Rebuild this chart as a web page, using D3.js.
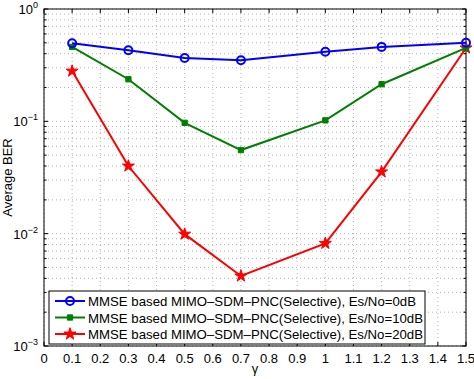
<!DOCTYPE html>
<html><head><meta charset="utf-8">
<script src="https://cdn.jsdelivr.net/npm/d3@7"></script>
<style>body{margin:0;background:#fff}svg{display:block}text{font-family:"Liberation Sans",Arial,sans-serif}</style>
</head><body>
<svg id="c" width="474" height="379"></svg>
<script>
const gammas = [0.1, 0.3, 0.5, 0.7, 1.0, 1.2, 1.5];
const ber0dB  = [0.495, 0.43, 0.366, 0.35, 0.417, 0.46, 0.50];
const ber10dB = [0.46, 0.237, 0.097, 0.0555, 0.102, 0.214, 0.45];
const ber20dB = [0.28, 0.040, 0.0099, 0.0042, 0.0082, 0.0355, 0.45];
const seriesNames = [
  "MMSE based MIMO\u2013SDM\u2013PNC(Selective), Es/No=0dB",
  "MMSE based MIMO\u2013SDM\u2013PNC(Selective), Es/No=10dB",
  "MMSE based MIMO\u2013SDM\u2013PNC(Selective), Es/No=20dB"
];
const colors = ["#0000ff", "#008000", "#ff0000"];
const xTicks = [0,0.1,0.2,0.3,0.4,0.5,0.6,0.7,0.8,0.9,1,1.1,1.2,1.3,1.4,1.5];
const yDecades = [0, -1, -2, -3];

const svg = d3.select("#c");
const L = 44, R = 466, T = 9, B = 346;
const x = d3.scaleLinear().domain([0, 1.5]).range([L, R]);
const y = d3.scaleLog().domain([1e-3, 1]).range([B, T]);

// grid
const g = svg.append("g");
const minor = [];
for (let e = -3; e < 0; e++) for (let m = 1; m <= 9; m++) minor.push(m * Math.pow(10, e));
minor.push(1);
g.selectAll("line.hg").data(minor).join("line")
  .attr("x1", L).attr("x2", R).attr("y1", d => y(d)).attr("y2", d => y(d))
  .attr("stroke", "#a0a0a0").attr("stroke-width", 0.8).attr("stroke-dasharray", "1,3");
g.selectAll("line.vg").data(xTicks).join("line")
  .attr("y1", T).attr("y2", B).attr("x1", d => x(d)).attr("x2", d => x(d))
  .attr("stroke", "#a0a0a0").attr("stroke-width", 0.8).attr("stroke-dasharray", "1,3");

// frame
svg.append("rect").attr("x", L).attr("y", T).attr("width", R - L).attr("height", B - T)
  .attr("fill", "none").attr("stroke", "#000").attr("stroke-width", 1);

// ticks inside
xTicks.forEach(v => {
  svg.append("line").attr("x1", x(v)).attr("x2", x(v)).attr("y1", B).attr("y2", B - 4).attr("stroke", "#000");
  svg.append("line").attr("x1", x(v)).attr("x2", x(v)).attr("y1", T).attr("y2", T + 4).attr("stroke", "#000");
});
minor.forEach(v => {
  const major = Math.abs(Math.log10(v) - Math.round(Math.log10(v))) < 1e-9;
  const len = major ? 4 : 2.5;
  svg.append("line").attr("x1", L).attr("x2", L + len).attr("y1", y(v)).attr("y2", y(v)).attr("stroke", "#000");
  svg.append("line").attr("x1", R).attr("x2", R - len).attr("y1", y(v)).attr("y2", y(v)).attr("stroke", "#000");
});

// x tick labels
svg.selectAll("text.xt").data(xTicks).join("text")
  .attr("x", d => x(d)).attr("y", B + 17).attr("text-anchor", "middle")
  .attr("font-size", 13).text(d => d3.format("~g")(d));

// y tick labels
yDecades.forEach(e => {
  const t = svg.append("text").attr("x", L - 6).attr("y", y(Math.pow(10, e)) + 5)
    .attr("text-anchor", "end").attr("font-size", 13);
  t.append("tspan").text("10");
  t.append("tspan").attr("dy", -6).attr("font-size", 9).text(e === 0 ? "0" : "\u2212" + (-e));
});

// axis labels
svg.append("text").attr("transform", `translate(12,${(T + B) / 2}) rotate(-90)`)
  .attr("text-anchor", "middle").attr("font-size", 13).text("Average BER");
svg.append("text").attr("x", x(0.75)).attr("y", 373).attr("text-anchor", "middle")
  .attr("font-size", 13).attr("font-family", "DejaVu Serif, serif").text("\u03b3");

// series
const all = [ber0dB, ber10dB, ber20dB];
const line = d3.line().x((d, i) => x(gammas[i])).y(d => y(d));
const star = d3.symbol().type(d3.symbolStar).size(45);
const sq = d3.symbol().type(d3.symbolSquare).size(28);

function marker(sel, k, cx, cy) {
  if (k === 0) sel.append("circle").attr("cx", cx).attr("cy", cy).attr("r", 4)
    .attr("fill", "none").attr("stroke", colors[0]).attr("stroke-width", 2);
  else if (k === 1) sel.append("path").attr("d", sq).attr("transform", `translate(${cx},${cy})`)
    .attr("fill", colors[1]).attr("stroke", colors[1]).attr("stroke-width", 1);
  else sel.append("path").attr("d", star).attr("transform", `translate(${cx},${cy})`)
    .attr("fill", colors[2]).attr("stroke", colors[2]).attr("stroke-width", 1);
}
const order = [2, 1, 0];
order.forEach(k => {
  const s = svg.append("g");
  s.append("path").datum(all[k]).attr("d", line).attr("fill", "none")
    .attr("stroke", colors[k]).attr("stroke-width", 2);
  all[k].forEach((v, i) => marker(s, k, x(gammas[i]), y(v)));
});

// legend
const lg = svg.append("g");
lg.append("rect").attr("x", 49).attr("y", 291).attr("width", 376).attr("height", 53)
  .attr("fill", "#fff").attr("stroke", "#000").attr("stroke-width", 1);
const textLens = [328, 335, 335];
seriesNames.forEach((n, k) => {
  const cy = 301 + k * 16.5;
  lg.append("line").attr("x1", 55).attr("x2", 85).attr("y1", cy).attr("y2", cy)
    .attr("stroke", colors[k]).attr("stroke-width", 2);
  marker(lg, k, 70, cy);
  lg.append("text").attr("x", 88).attr("y", cy + 5).attr("font-size", 13.4)
    .attr("textLength", textLens[k]).attr("lengthAdjust", "spacingAndGlyphs").text(n);
});
</script>
</body></html>
